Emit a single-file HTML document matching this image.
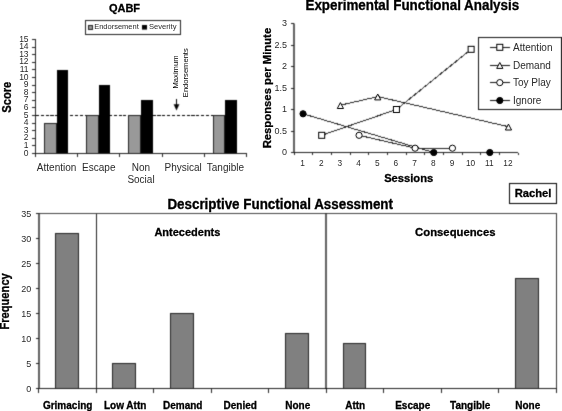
<!DOCTYPE html>
<html><head><meta charset="utf-8"><title>Functional Assessment Charts</title>
<style>
html,body{margin:0;padding:0;background:#fff;}
body{width:562px;height:411px;overflow:hidden;}
svg{display:block;font-family:"Liberation Sans", Arial, sans-serif;}
</style></head><body>
<svg width="562" height="411" viewBox="0 0 562 411">
<defs><filter id="bl" color-interpolation-filters="sRGB" x="0" y="0" width="100%" height="100%" filterUnits="userSpaceOnUse"><feConvolveMatrix order="3" kernelMatrix="1 5 1 5 22 5 1 5 1" edgeMode="duplicate" preserveAlpha="true"/></filter><filter id="bm" color-interpolation-filters="sRGB" x="0" y="0" width="100%" height="100%" filterUnits="userSpaceOnUse"><feConvolveMatrix order="3" kernelMatrix="1 3 1 3 40 3 1 3 1" edgeMode="none" preserveAlpha="false"/></filter></defs>
<g filter="url(#bl)">
<rect x="0" y="0" width="562" height="411" fill="#fff"/>
<rect x="85.50" y="20.50" width="95.00" height="13.80" fill="#fff" stroke="#222" stroke-width="1" shape-rendering="crispEdges"/>
<rect x="88.30" y="25.20" width="4.00" height="4.00" fill="#999" stroke="#222" stroke-width="1" shape-rendering="crispEdges"/>
<rect x="142.30" y="25.00" width="4.40" height="4.40" fill="#000" stroke="#000" stroke-width="0.6" shape-rendering="crispEdges"/>
<line x1="35.90" y1="115.50" x2="213.50" y2="115.50" stroke="#000" stroke-width="1" shape-rendering="crispEdges" stroke-dasharray="3.1 1.76"/>
<rect x="44.40" y="123.10" width="11.70" height="30.40" fill="#999" stroke="#222" stroke-width="1" shape-rendering="crispEdges"/>
<rect x="56.50" y="69.90" width="11.70" height="83.60" fill="#000" stroke="none" stroke-width="1" shape-rendering="crispEdges"/>
<rect x="86.60" y="115.50" width="11.70" height="38.00" fill="#999" stroke="#222" stroke-width="1" shape-rendering="crispEdges"/>
<rect x="98.70" y="85.10" width="11.70" height="68.40" fill="#000" stroke="none" stroke-width="1" shape-rendering="crispEdges"/>
<rect x="128.80" y="115.50" width="11.70" height="38.00" fill="#999" stroke="#222" stroke-width="1" shape-rendering="crispEdges"/>
<rect x="140.90" y="100.30" width="11.70" height="53.20" fill="#000" stroke="none" stroke-width="1" shape-rendering="crispEdges"/>
<rect x="213.20" y="115.50" width="11.70" height="38.00" fill="#999" stroke="#222" stroke-width="1" shape-rendering="crispEdges"/>
<rect x="225.30" y="100.30" width="11.70" height="53.20" fill="#000" stroke="none" stroke-width="1" shape-rendering="crispEdges"/>
<line x1="35.50" y1="39.50" x2="35.50" y2="154.00" stroke="#222" stroke-width="1" shape-rendering="crispEdges" />
<line x1="35.00" y1="153.50" x2="246.50" y2="153.50" stroke="#222" stroke-width="1" shape-rendering="crispEdges" />
<line x1="32.00" y1="153.50" x2="35.50" y2="153.50" stroke="#222" stroke-width="1" shape-rendering="crispEdges" />
<line x1="32.00" y1="145.90" x2="35.50" y2="145.90" stroke="#222" stroke-width="1" shape-rendering="crispEdges" />
<line x1="32.00" y1="138.30" x2="35.50" y2="138.30" stroke="#222" stroke-width="1" shape-rendering="crispEdges" />
<line x1="32.00" y1="130.70" x2="35.50" y2="130.70" stroke="#222" stroke-width="1" shape-rendering="crispEdges" />
<line x1="32.00" y1="123.10" x2="35.50" y2="123.10" stroke="#222" stroke-width="1" shape-rendering="crispEdges" />
<line x1="32.00" y1="115.50" x2="35.50" y2="115.50" stroke="#222" stroke-width="1" shape-rendering="crispEdges" />
<line x1="32.00" y1="107.90" x2="35.50" y2="107.90" stroke="#222" stroke-width="1" shape-rendering="crispEdges" />
<line x1="32.00" y1="100.30" x2="35.50" y2="100.30" stroke="#222" stroke-width="1" shape-rendering="crispEdges" />
<line x1="32.00" y1="92.70" x2="35.50" y2="92.70" stroke="#222" stroke-width="1" shape-rendering="crispEdges" />
<line x1="32.00" y1="85.10" x2="35.50" y2="85.10" stroke="#222" stroke-width="1" shape-rendering="crispEdges" />
<line x1="32.00" y1="77.50" x2="35.50" y2="77.50" stroke="#222" stroke-width="1" shape-rendering="crispEdges" />
<line x1="32.00" y1="69.90" x2="35.50" y2="69.90" stroke="#222" stroke-width="1" shape-rendering="crispEdges" />
<line x1="32.00" y1="62.30" x2="35.50" y2="62.30" stroke="#222" stroke-width="1" shape-rendering="crispEdges" />
<line x1="32.00" y1="54.70" x2="35.50" y2="54.70" stroke="#222" stroke-width="1" shape-rendering="crispEdges" />
<line x1="32.00" y1="47.10" x2="35.50" y2="47.10" stroke="#222" stroke-width="1" shape-rendering="crispEdges" />
<line x1="32.00" y1="39.50" x2="35.50" y2="39.50" stroke="#222" stroke-width="1" shape-rendering="crispEdges" />
<line x1="35.50" y1="153.50" x2="35.50" y2="157.00" stroke="#222" stroke-width="1" shape-rendering="crispEdges" />
<line x1="77.70" y1="153.50" x2="77.70" y2="157.00" stroke="#222" stroke-width="1" shape-rendering="crispEdges" />
<line x1="119.90" y1="153.50" x2="119.90" y2="157.00" stroke="#222" stroke-width="1" shape-rendering="crispEdges" />
<line x1="162.10" y1="153.50" x2="162.10" y2="157.00" stroke="#222" stroke-width="1" shape-rendering="crispEdges" />
<line x1="204.30" y1="153.50" x2="204.30" y2="157.00" stroke="#222" stroke-width="1" shape-rendering="crispEdges" />
<line x1="246.50" y1="153.50" x2="246.50" y2="157.00" stroke="#222" stroke-width="1" shape-rendering="crispEdges" />
<line x1="176.50" y1="99.20" x2="176.50" y2="106.00" stroke="#000" stroke-width="1" shape-rendering="crispEdges" />
<path d="M173.6,104.3 L179.4,104.3 L176.5,110.6 Z" fill="#000"/>
<line x1="294.00" y1="23.50" x2="294.00" y2="153.00" stroke="#000" stroke-width="1.25" />
<line x1="294.20" y1="152.50" x2="518.30" y2="152.50" stroke="#222" stroke-width="1" shape-rendering="crispEdges" />
<line x1="290.90" y1="152.50" x2="294.20" y2="152.50" stroke="#222" stroke-width="1" shape-rendering="crispEdges" />
<line x1="290.90" y1="131.00" x2="294.20" y2="131.00" stroke="#222" stroke-width="1" shape-rendering="crispEdges" />
<line x1="290.90" y1="109.50" x2="294.20" y2="109.50" stroke="#222" stroke-width="1" shape-rendering="crispEdges" />
<line x1="290.90" y1="88.00" x2="294.20" y2="88.00" stroke="#222" stroke-width="1" shape-rendering="crispEdges" />
<line x1="290.90" y1="66.50" x2="294.20" y2="66.50" stroke="#222" stroke-width="1" shape-rendering="crispEdges" />
<line x1="290.90" y1="45.00" x2="294.20" y2="45.00" stroke="#222" stroke-width="1" shape-rendering="crispEdges" />
<line x1="290.90" y1="23.50" x2="294.20" y2="23.50" stroke="#222" stroke-width="1" shape-rendering="crispEdges" />
<line x1="294.20" y1="152.50" x2="294.20" y2="155.30" stroke="#222" stroke-width="1" shape-rendering="crispEdges" />
<line x1="312.88" y1="152.50" x2="312.88" y2="155.30" stroke="#222" stroke-width="1" shape-rendering="crispEdges" />
<line x1="331.55" y1="152.50" x2="331.55" y2="155.30" stroke="#222" stroke-width="1" shape-rendering="crispEdges" />
<line x1="350.22" y1="152.50" x2="350.22" y2="155.30" stroke="#222" stroke-width="1" shape-rendering="crispEdges" />
<line x1="368.90" y1="152.50" x2="368.90" y2="155.30" stroke="#222" stroke-width="1" shape-rendering="crispEdges" />
<line x1="387.57" y1="152.50" x2="387.57" y2="155.30" stroke="#222" stroke-width="1" shape-rendering="crispEdges" />
<line x1="406.25" y1="152.50" x2="406.25" y2="155.30" stroke="#222" stroke-width="1" shape-rendering="crispEdges" />
<line x1="424.92" y1="152.50" x2="424.92" y2="155.30" stroke="#222" stroke-width="1" shape-rendering="crispEdges" />
<line x1="443.60" y1="152.50" x2="443.60" y2="155.30" stroke="#222" stroke-width="1" shape-rendering="crispEdges" />
<line x1="462.27" y1="152.50" x2="462.27" y2="155.30" stroke="#222" stroke-width="1" shape-rendering="crispEdges" />
<line x1="480.95" y1="152.50" x2="480.95" y2="155.30" stroke="#222" stroke-width="1" shape-rendering="crispEdges" />
<line x1="499.62" y1="152.50" x2="499.62" y2="155.30" stroke="#222" stroke-width="1" shape-rendering="crispEdges" />
<line x1="518.30" y1="152.50" x2="518.30" y2="155.30" stroke="#222" stroke-width="1" shape-rendering="crispEdges" />
<path d="M321.71,135.30 L396.41,109.50 L471.11,49.30" fill="none" stroke="#222" stroke-width="1" shape-rendering="crispEdges"/>
<path d="M340.39,105.20 L377.74,96.60 L508.46,126.70" fill="none" stroke="#222" stroke-width="1" shape-rendering="crispEdges"/>
<path d="M359.06,135.30 L415.09,148.20 L452.44,148.20" fill="none" stroke="#222" stroke-width="1" shape-rendering="crispEdges"/>
<path d="M303.04,113.80 L433.76,152.50 L489.79,152.50" fill="none" stroke="#222" stroke-width="1" shape-rendering="crispEdges"/>
<rect x="478.50" y="37.50" width="83.00" height="72.00" fill="#fff" stroke="#111" stroke-width="1" shape-rendering="crispEdges"/>
<line x1="490.20" y1="47.30" x2="509.70" y2="47.30" stroke="#111" stroke-width="1" shape-rendering="crispEdges" />
<line x1="490.20" y1="65.10" x2="509.70" y2="65.10" stroke="#111" stroke-width="1" shape-rendering="crispEdges" />
<line x1="490.20" y1="82.60" x2="509.70" y2="82.60" stroke="#111" stroke-width="1" shape-rendering="crispEdges" />
<line x1="490.20" y1="100.50" x2="509.70" y2="100.50" stroke="#111" stroke-width="1" shape-rendering="crispEdges" />
<rect x="509.50" y="183.50" width="47.00" height="19.70" fill="#fff" stroke="#000" stroke-width="1" shape-rendering="crispEdges"/>
<line x1="38.90" y1="213.50" x2="556.50" y2="213.50" stroke="#444" stroke-width="1" shape-rendering="crispEdges" />
<line x1="556.50" y1="213.50" x2="556.50" y2="388.50" stroke="#333" stroke-width="1" shape-rendering="crispEdges" />
<rect x="55.46" y="233.59" width="22.80" height="154.91" fill="#808080" stroke="#222" stroke-width="1" shape-rendering="crispEdges"/>
<rect x="112.97" y="363.51" width="22.80" height="24.99" fill="#808080" stroke="#222" stroke-width="1" shape-rendering="crispEdges"/>
<rect x="170.48" y="313.54" width="22.80" height="74.96" fill="#808080" stroke="#222" stroke-width="1" shape-rendering="crispEdges"/>
<rect x="285.50" y="333.53" width="22.80" height="54.97" fill="#808080" stroke="#222" stroke-width="1" shape-rendering="crispEdges"/>
<rect x="343.01" y="343.53" width="22.80" height="44.97" fill="#808080" stroke="#222" stroke-width="1" shape-rendering="crispEdges"/>
<rect x="515.54" y="278.56" width="22.80" height="109.94" fill="#808080" stroke="#222" stroke-width="1" shape-rendering="crispEdges"/>
<line x1="39.00" y1="213.50" x2="39.00" y2="389.00" stroke="#000" stroke-width="1.25" />
<line x1="38.90" y1="388.50" x2="556.50" y2="388.50" stroke="#222" stroke-width="1" shape-rendering="crispEdges" />
<line x1="35.90" y1="388.50" x2="38.90" y2="388.50" stroke="#222" stroke-width="1" shape-rendering="crispEdges" />
<line x1="35.90" y1="363.51" x2="38.90" y2="363.51" stroke="#222" stroke-width="1" shape-rendering="crispEdges" />
<line x1="35.90" y1="338.53" x2="38.90" y2="338.53" stroke="#222" stroke-width="1" shape-rendering="crispEdges" />
<line x1="35.90" y1="313.54" x2="38.90" y2="313.54" stroke="#222" stroke-width="1" shape-rendering="crispEdges" />
<line x1="35.90" y1="288.56" x2="38.90" y2="288.56" stroke="#222" stroke-width="1" shape-rendering="crispEdges" />
<line x1="35.90" y1="263.57" x2="38.90" y2="263.57" stroke="#222" stroke-width="1" shape-rendering="crispEdges" />
<line x1="35.90" y1="238.59" x2="38.90" y2="238.59" stroke="#222" stroke-width="1" shape-rendering="crispEdges" />
<line x1="35.90" y1="213.60" x2="38.90" y2="213.60" stroke="#222" stroke-width="1" shape-rendering="crispEdges" />
<line x1="38.90" y1="388.50" x2="38.90" y2="392.50" stroke="#222" stroke-width="1" shape-rendering="crispEdges" />
<line x1="96.41" y1="388.50" x2="96.41" y2="392.50" stroke="#222" stroke-width="1" shape-rendering="crispEdges" />
<line x1="153.92" y1="388.50" x2="153.92" y2="392.50" stroke="#222" stroke-width="1" shape-rendering="crispEdges" />
<line x1="211.43" y1="388.50" x2="211.43" y2="392.50" stroke="#222" stroke-width="1" shape-rendering="crispEdges" />
<line x1="268.94" y1="388.50" x2="268.94" y2="392.50" stroke="#222" stroke-width="1" shape-rendering="crispEdges" />
<line x1="326.46" y1="388.50" x2="326.46" y2="392.50" stroke="#222" stroke-width="1" shape-rendering="crispEdges" />
<line x1="383.97" y1="388.50" x2="383.97" y2="392.50" stroke="#222" stroke-width="1" shape-rendering="crispEdges" />
<line x1="441.48" y1="388.50" x2="441.48" y2="392.50" stroke="#222" stroke-width="1" shape-rendering="crispEdges" />
<line x1="498.99" y1="388.50" x2="498.99" y2="392.50" stroke="#222" stroke-width="1" shape-rendering="crispEdges" />
<line x1="556.50" y1="388.50" x2="556.50" y2="392.50" stroke="#222" stroke-width="1" shape-rendering="crispEdges" />
<line x1="96.50" y1="213.50" x2="96.50" y2="388.50" stroke="#222" stroke-width="1" shape-rendering="crispEdges" />
<line x1="326.00" y1="213.50" x2="326.00" y2="389.00" stroke="#000" stroke-width="1.25" />
</g>
<g filter="url(#bm)">
<rect x="318.71" y="132.30" width="6" height="6" fill="#fff" stroke="#000" stroke-width="1"/>
<rect x="393.41" y="106.50" width="6" height="6" fill="#fff" stroke="#000" stroke-width="1"/>
<rect x="468.11" y="46.30" width="6" height="6" fill="#fff" stroke="#000" stroke-width="1"/>
<path d="M340.39,102.60 L343.49,108.50 L337.29,108.50 Z" fill="#fff" stroke="#000" stroke-width="1"/>
<path d="M377.74,94.00 L380.84,99.90 L374.64,99.90 Z" fill="#fff" stroke="#000" stroke-width="1"/>
<path d="M508.46,124.10 L511.56,130.00 L505.36,130.00 Z" fill="#fff" stroke="#000" stroke-width="1"/>
<circle cx="359.06" cy="135.30" r="3.1" fill="#fff" stroke="#000" stroke-width="1"/>
<circle cx="415.09" cy="148.20" r="3.1" fill="#fff" stroke="#000" stroke-width="1"/>
<circle cx="452.44" cy="148.20" r="3.1" fill="#fff" stroke="#000" stroke-width="1"/>
<circle cx="303.04" cy="113.80" r="3.1" fill="#000" stroke="#000" stroke-width="1"/>
<circle cx="433.76" cy="152.50" r="3.1" fill="#000" stroke="#000" stroke-width="1"/>
<circle cx="489.79" cy="152.50" r="3.1" fill="#000" stroke="#000" stroke-width="1"/>
<rect x="496.80" y="44.30" width="6" height="6" fill="#fff" stroke="#000" stroke-width="1"/>
<path d="M499.80,62.50 L502.90,68.40 L496.70,68.40 Z" fill="#fff" stroke="#000" stroke-width="1"/>
<circle cx="499.80" cy="82.60" r="3.1" fill="#fff" stroke="#000" stroke-width="1"/>
<circle cx="499.80" cy="100.50" r="3.1" fill="#000" stroke="#000" stroke-width="1"/>
</g>
<g>
<text x="124.50" y="11.60" font-size="11" text-anchor="middle" font-weight="bold" stroke="#000" stroke-width="0.3" fill="#000" >QABF</text>
<text x="94.20" y="29.20" font-size="7.5" text-anchor="start" fill="#2a2a2a" >Endorsement</text>
<text x="149.00" y="29.20" font-size="7.6" text-anchor="start" fill="#2a2a2a" >Severity</text>
<text x="28.60" y="155.60" font-size="8.5" text-anchor="end" fill="#2a2a2a" >0</text>
<text x="28.60" y="148.00" font-size="8.5" text-anchor="end" fill="#2a2a2a" >1</text>
<text x="28.60" y="140.40" font-size="8.5" text-anchor="end" fill="#2a2a2a" >2</text>
<text x="28.60" y="132.80" font-size="8.5" text-anchor="end" fill="#2a2a2a" >3</text>
<text x="28.60" y="125.20" font-size="8.5" text-anchor="end" fill="#2a2a2a" >4</text>
<text x="28.60" y="117.60" font-size="8.5" text-anchor="end" fill="#2a2a2a" >5</text>
<text x="28.60" y="110.00" font-size="8.5" text-anchor="end" fill="#2a2a2a" >6</text>
<text x="28.60" y="102.40" font-size="8.5" text-anchor="end" fill="#2a2a2a" >7</text>
<text x="28.60" y="94.80" font-size="8.5" text-anchor="end" fill="#2a2a2a" >8</text>
<text x="28.60" y="87.20" font-size="8.5" text-anchor="end" fill="#2a2a2a" >9</text>
<text x="28.60" y="79.60" font-size="8.5" text-anchor="end" fill="#2a2a2a" >10</text>
<text x="28.60" y="72.00" font-size="8.5" text-anchor="end" fill="#2a2a2a" >11</text>
<text x="28.60" y="64.40" font-size="8.5" text-anchor="end" fill="#2a2a2a" >12</text>
<text x="28.60" y="56.80" font-size="8.5" text-anchor="end" fill="#2a2a2a" >13</text>
<text x="28.60" y="49.20" font-size="8.5" text-anchor="end" fill="#2a2a2a" >14</text>
<text x="28.60" y="41.60" font-size="8.5" text-anchor="end" fill="#2a2a2a" >15</text>
<text x="56.60" y="170.70" font-size="10" text-anchor="middle" fill="#2a2a2a" >Attention</text>
<text x="98.80" y="170.70" font-size="10" text-anchor="middle" fill="#2a2a2a" >Escape</text>
<text x="141.00" y="170.70" font-size="10" text-anchor="middle" fill="#2a2a2a" >Non</text>
<text x="183.20" y="170.70" font-size="10" text-anchor="middle" fill="#2a2a2a" >Physical</text>
<text x="225.40" y="170.70" font-size="10" text-anchor="middle" fill="#2a2a2a" >Tangible</text>
<text x="141.00" y="183.00" font-size="10" text-anchor="middle" fill="#2a2a2a" >Social</text>
<text x="0.00" y="0.00" font-size="12" text-anchor="middle" font-weight="bold" stroke="#000" stroke-width="0.3" fill="#000" transform="translate(10.8,97.2) rotate(-90) scale(0.93,1)">Score</text>
<text x="0.00" y="0.00" font-size="7.6" text-anchor="middle" fill="#000" transform="translate(178.4,72) rotate(-90)">Maximum</text>
<text x="0.00" y="0.00" font-size="7.6" text-anchor="middle" fill="#000" transform="translate(188.2,72.7) rotate(-90)">Endorsements</text>
<text x="0.00" y="0.00" font-size="13.4" text-anchor="middle" font-weight="bold" stroke="#000" stroke-width="0.3" fill="#000" transform="translate(412.3,10.2) scale(1,1.07)">Experimental Functional Analysis</text>
<text x="287.00" y="155.10" font-size="9" text-anchor="end" fill="#2a2a2a" >0</text>
<text x="287.00" y="133.60" font-size="9" text-anchor="end" fill="#2a2a2a" >0.5</text>
<text x="287.00" y="112.10" font-size="9" text-anchor="end" fill="#2a2a2a" >1</text>
<text x="287.00" y="90.60" font-size="9" text-anchor="end" fill="#2a2a2a" >1.5</text>
<text x="287.00" y="69.10" font-size="9" text-anchor="end" fill="#2a2a2a" >2</text>
<text x="287.00" y="47.60" font-size="9" text-anchor="end" fill="#2a2a2a" >2.5</text>
<text x="287.00" y="26.10" font-size="9" text-anchor="end" fill="#2a2a2a" >3</text>
<text x="302.54" y="166.20" font-size="8.3" text-anchor="middle" fill="#2a2a2a" >1</text>
<text x="321.21" y="166.20" font-size="8.3" text-anchor="middle" fill="#2a2a2a" >2</text>
<text x="339.89" y="166.20" font-size="8.3" text-anchor="middle" fill="#2a2a2a" >3</text>
<text x="358.56" y="166.20" font-size="8.3" text-anchor="middle" fill="#2a2a2a" >4</text>
<text x="377.24" y="166.20" font-size="8.3" text-anchor="middle" fill="#2a2a2a" >5</text>
<text x="395.91" y="166.20" font-size="8.3" text-anchor="middle" fill="#2a2a2a" >6</text>
<text x="414.59" y="166.20" font-size="8.3" text-anchor="middle" fill="#2a2a2a" >7</text>
<text x="433.26" y="166.20" font-size="8.3" text-anchor="middle" fill="#2a2a2a" >8</text>
<text x="451.94" y="166.20" font-size="8.3" text-anchor="middle" fill="#2a2a2a" >9</text>
<text x="470.61" y="166.20" font-size="8.3" text-anchor="middle" fill="#2a2a2a" >10</text>
<text x="489.29" y="166.20" font-size="8.3" text-anchor="middle" fill="#2a2a2a" >11</text>
<text x="507.96" y="166.20" font-size="8.3" text-anchor="middle" fill="#2a2a2a" >12</text>
<text x="408.70" y="182.10" font-size="11.2" text-anchor="middle" font-weight="bold" stroke="#000" stroke-width="0.3" fill="#000" >Sessions</text>
<text x="0.00" y="0.00" font-size="11.3" text-anchor="middle" font-weight="bold" stroke="#000" stroke-width="0.3" fill="#000" transform="translate(271.1,88.1) rotate(-90)">Responses per Minute</text>
<text x="513.00" y="50.90" font-size="10" text-anchor="start" fill="#2a2a2a" >Attention</text>
<text x="513.00" y="68.70" font-size="10" text-anchor="start" fill="#2a2a2a" >Demand</text>
<text x="513.00" y="86.20" font-size="10" text-anchor="start" fill="#2a2a2a" >Toy Play</text>
<text x="513.00" y="104.10" font-size="10" text-anchor="start" fill="#2a2a2a" >Ignore</text>
<text x="533.00" y="196.60" font-size="11.2" text-anchor="middle" font-weight="bold" stroke="#000" stroke-width="0.3" fill="#000" >Rachel</text>
<text x="0.00" y="0.00" font-size="13.4" text-anchor="middle" font-weight="bold" stroke="#000" stroke-width="0.3" fill="#000" transform="translate(280.2,208.6) scale(1,1.07)">Descriptive Functional Assessment</text>
<text x="31.20" y="391.70" font-size="9" text-anchor="end" fill="#2a2a2a" >0</text>
<text x="31.20" y="366.71" font-size="9" text-anchor="end" fill="#2a2a2a" >5</text>
<text x="31.20" y="341.73" font-size="9" text-anchor="end" fill="#2a2a2a" >10</text>
<text x="31.20" y="316.74" font-size="9" text-anchor="end" fill="#2a2a2a" >15</text>
<text x="31.20" y="291.76" font-size="9" text-anchor="end" fill="#2a2a2a" >20</text>
<text x="31.20" y="266.77" font-size="9" text-anchor="end" fill="#2a2a2a" >25</text>
<text x="31.20" y="241.79" font-size="9" text-anchor="end" fill="#2a2a2a" >30</text>
<text x="31.20" y="216.80" font-size="9" text-anchor="end" fill="#2a2a2a" >35</text>
<text x="67.66" y="408.50" font-size="10" text-anchor="middle" font-weight="bold" stroke="#000" stroke-width="0.3" fill="#000" >Grimacing</text>
<text x="125.17" y="408.50" font-size="10" text-anchor="middle" font-weight="bold" stroke="#000" stroke-width="0.3" fill="#000" >Low Attn</text>
<text x="182.68" y="408.50" font-size="10" text-anchor="middle" font-weight="bold" stroke="#000" stroke-width="0.3" fill="#000" >Demand</text>
<text x="240.19" y="408.50" font-size="10" text-anchor="middle" font-weight="bold" stroke="#000" stroke-width="0.3" fill="#000" >Denied</text>
<text x="297.70" y="408.50" font-size="10" text-anchor="middle" font-weight="bold" stroke="#000" stroke-width="0.3" fill="#000" >None</text>
<text x="355.21" y="408.50" font-size="10" text-anchor="middle" font-weight="bold" stroke="#000" stroke-width="0.3" fill="#000" >Attn</text>
<text x="412.72" y="408.50" font-size="10" text-anchor="middle" font-weight="bold" stroke="#000" stroke-width="0.3" fill="#000" >Escape</text>
<text x="470.23" y="408.50" font-size="10" text-anchor="middle" font-weight="bold" stroke="#000" stroke-width="0.3" fill="#000" >Tangible</text>
<text x="527.74" y="408.50" font-size="10" text-anchor="middle" font-weight="bold" stroke="#000" stroke-width="0.3" fill="#000" >None</text>
<text x="187.40" y="235.70" font-size="11" text-anchor="middle" font-weight="bold" stroke="#000" stroke-width="0.3" fill="#000" >Antecedents</text>
<text x="455.30" y="235.70" font-size="11.3" text-anchor="middle" font-weight="bold" stroke="#000" stroke-width="0.3" fill="#000" >Consequences</text>
<text x="0.00" y="0.00" font-size="12.4" text-anchor="middle" font-weight="bold" stroke="#000" stroke-width="0.3" fill="#000" transform="translate(8.7,301.4) rotate(-90) scale(0.9,1)">Frequency</text>
</g>
</svg>
</body></html>
